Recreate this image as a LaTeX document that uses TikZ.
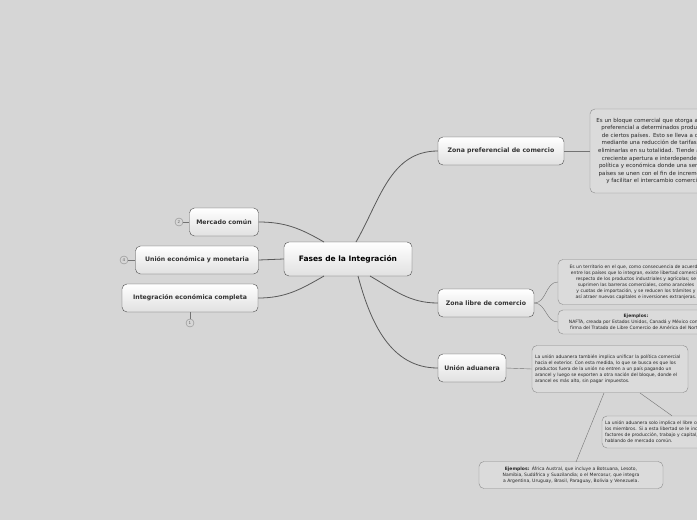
\documentclass[tikz,border=0pt]{standalone}
\usepackage{fontspec}
\setmainfont{DejaVu Sans}
\hyphenpenalty=10000 \exhyphenpenalty=10000
\begin{document}
\begin{tikzpicture}[x=1pt,y=-1pt,
  topic/.style={draw=black!70,rounded corners=5pt,top color=white,bottom color=black!12,font=\bfseries\fontsize{6.2}{8}\selectfont,text=black!80,inner sep=0pt,align=center},
  note/.style={draw=black!45,rounded corners=5pt,fill=black!14,font=\fontsize{4.5}{6}\selectfont,text=black!85,inner sep=3pt,align=center},
  num/.style={draw=black!45,circle,minimum size=8pt,inner sep=0pt,font=\fontsize{4}{4}\selectfont,text=black!60},
  link/.style={draw=black!65,line width=0.8pt},
  thin/.style={draw=black!55,line width=0.4pt}]
\fill[black!16] (0,0) rectangle (697,520);
\useasboundingbox (0,0) rectangle (697,520);
\node[topic,minimum width=128pt,minimum height=34pt,font=\bfseries\fontsize{7.5}{10}\selectfont,text=black] (c) at (348,259) {Fases de la Integración};
\node[topic,minimum width=126pt,minimum height=28pt] (zp) at (501,151) {Zona preferencial de comercio};
\node[topic,minimum width=96pt,minimum height=28pt] (zl) at (486,303) {Zona libre de comercio};
\node[topic,minimum width=68pt,minimum height=28pt] (ua) at (472,368) {Unión aduanera};
\node[topic,minimum width=69pt,minimum height=28pt] (mc) at (224,222) {Mercado común};
\node[topic,minimum width=123pt,minimum height=28pt] (um) at (197,260) {Unión económica y monetaria};
\node[topic,minimum width=136pt,minimum height=28pt] (ie) at (190,298) {Integración económica completa};
\node[num] (n1) at (179,222) {2};
\node[num] (n2) at (124,260) {4};
\node[num] (n3) at (190,323) {1};
\draw[thin] (n1) -- (mc.west); \draw[thin] (n2) -- (um.west); \draw[thin] (n3) -- (ie.south);
\node[note,text width=124pt,minimum height=84pt,font=\fontsize{5.5}{7.6}\selectfont] (t1) at (655,151) {Es un bloque comercial que otorga acceso preferencial a determinados productos de ciertos países. Esto se lleva a cabo mediante una reducción de tarifas, sin eliminarlas en su totalidad. Tiende a una creciente apertura e interdependencia política y económica donde una serie de países se unen con el fin de incrementar y facilitar el intercambio comercial.};
\node[note,text width=150pt,minimum height=45pt] (t2) at (636,282) {Es un territorio en el que, como consecuencia de acuerdos entre los países que lo integran, existe libertad comercial respecto de los productos industriales y agrícolas; se suprimen las barreras comerciales, como aranceles y cuotas de importación, y se reducen los trámites y así atraer nuevos capitales e inversiones extranjeras.};
\node[note,text width=150pt,minimum height=24pt] (t3) at (636,322) {\textbf{Ejemplos:}\\NAFTA, creada por Estados Unidos, Canadá y México con la firma del Tratado de Libre Comercio de América del Norte.};
\node[note,text width=150pt,minimum height=47pt,align=left] (t4) at (610,369) {La unión aduanera también implica unificar la política comercial hacia el exterior. Con esta medida, lo que se busca es que los productos fuera de la unión no entren a un país pagando un arancel y luego se exporten a otra nación del bloque, donde el arancel es más alto, sin pagar impuestos.};
\node[note,text width=130pt,minimum height=32pt,align=left] (t5) at (670,432) {La unión aduanera solo implica el libre comercio entre los miembros. Si a esta libertad se le incorporan los factores de producción, trabajo y capital, estaríamos hablando de mercado común.};
\node[note,text width=178pt,minimum height=27pt] (t6) at (571,475) {\textbf{Ejemplos:} África Austral, que incluye a Botsuana, Lesoto, Namibia, Sudáfrica y Suazilandia; o el Mercosur, que integra a Argentina, Uruguay, Brasil, Paraguay, Bolivia y Venezuela.};
\draw[link] (356,242) to[out=60,in=180] (zp.west);
\draw[link] (370,276) to[out=-30,in=180] (zl.west);
\draw[link] (358,276) to[out=-75,in=180] (ua.west);
\draw[link] (mc.east) to[out=0,in=150] (324,242);
\draw[link] (um.east) -- (c.west);
\draw[link] (ie.east) to[out=0,in=-150] (324,276);
\draw[thin] (zp.east) -- (t1.west);
\draw[thin] (zl.east) to[out=0,in=180] (t2.west);
\draw[thin] (zl.east) to[out=0,in=180] (t3.west);
\draw[thin] (ua.east) -- (t4.west);
\draw[thin] (640,393) -- (t5.north -| 672,0);
\draw[thin] (604,393) -- (576,462);
\end{tikzpicture}
\end{document}
